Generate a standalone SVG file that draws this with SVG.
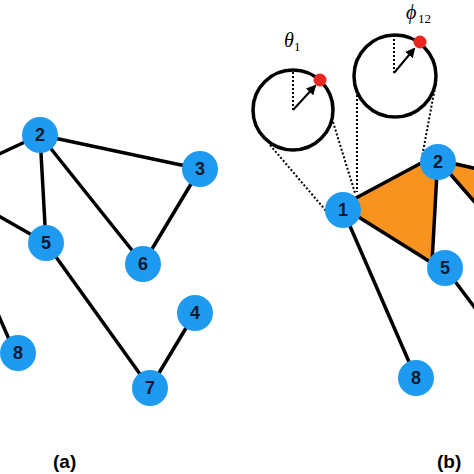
<svg xmlns="http://www.w3.org/2000/svg" width="474" height="474" viewBox="0 0 474 474">
<defs>
<style>
.edge{stroke:#000;stroke-width:3.5;fill:none;stroke-linecap:round}
.tri{fill:#f7931e;stroke:#000;stroke-width:3.5;stroke-linejoin:round}
.dot{stroke:#000;stroke-width:2;stroke-dasharray:2 2;fill:none}
.ring{fill:#fff;stroke:#000;stroke-width:3.5}
.node{fill:#1e9bf0}
.nl{font-family:"Liberation Sans",Arial,sans-serif;font-weight:bold;font-size:18px;fill:#0b1a2e;text-anchor:middle}
.cap{font-family:"Liberation Sans",Arial,sans-serif;font-weight:bold;font-size:19px;fill:#000}
.sym{font-family:"Liberation Serif","Times New Roman",serif;font-style:italic;font-size:20px;fill:#000}
.sub{font-family:"Liberation Serif","Times New Roman",serif;font-size:13px;fill:#000}
</style>
<marker id="ah" viewBox="0 0 10 10" refX="8" refY="5" markerWidth="5" markerHeight="5" orient="auto">
<path d="M0,0 L10,5 L0,10 z" fill="#000"/>
</marker>
</defs>
<rect width="474" height="474" fill="#fff"/>
<g id="connectors">
<line class="edge" x1="40" y1="135" x2="-5" y2="156"/>
<line class="edge" x1="46" y1="243" x2="-5" y2="214"/>
<line class="edge" x1="15" y1="353" x2="-2" y2="314"/>
<line class="edge" x1="40" y1="135" x2="200" y2="169"/>
<line class="edge" x1="40" y1="135" x2="46" y2="243"/>
<line class="edge" x1="40" y1="135" x2="143" y2="264"/>
<line class="edge" x1="200" y1="169" x2="143" y2="264"/>
<line class="edge" x1="46" y1="243" x2="150" y2="388"/>
<line class="edge" x1="150" y1="388" x2="195" y2="313"/>
<polygon class="tri" points="341,206 438,154 432,263"/>
<polygon class="tri" points="438,160 500,174 500,231"/>
<line class="edge" x1="343" y1="210" x2="416" y2="378"/>
<line class="edge" x1="445" y1="268" x2="490" y2="328"/>
<line class="dot" x1="270" y1="145" x2="327" y2="212"/>
<line class="dot" x1="333" y1="122" x2="355" y2="193"/>
<line class="dot" x1="357" y1="95" x2="357" y2="192"/>
<line class="dot" x1="436" y1="82" x2="422" y2="157"/>
</g>
<g id="phase1">
<circle class="ring" cx="293" cy="110" r="40"/>
<line class="dot" x1="293" y1="110" x2="293" y2="71"/>
<line x1="293" y1="110" x2="315" y2="86" stroke="#000" stroke-width="2" marker-end="url(#ah)"/>
<circle cx="320" cy="80" r="6.5" fill="#e8281e"/>
<text class="sym" x="284" y="47">θ</text><text class="sub" x="294" y="51">1</text>
</g>
<g id="phase12">
<circle class="ring" cx="395" cy="76" r="41"/>
<line class="dot" x1="394" y1="73" x2="394" y2="36"/>
<line x1="394" y1="73" x2="414" y2="49" stroke="#000" stroke-width="2" marker-end="url(#ah)"/>
<circle cx="420" cy="42" r="6.5" fill="#e8281e"/>
<text class="sym" x="406" y="19">ϕ</text><text class="sub" x="418" y="23">12</text>
</g>
<g id="a2"><circle class="node" cx="40" cy="135" r="18"/><text class="nl" x="40" y="141">2</text></g>
<g id="a3"><circle class="node" cx="200" cy="169" r="18"/><text class="nl" x="200" y="175">3</text></g>
<g id="a5"><circle class="node" cx="46" cy="243" r="18"/><text class="nl" x="46" y="249">5</text></g>
<g id="a6"><circle class="node" cx="143" cy="264" r="18"/><text class="nl" x="143" y="270">6</text></g>
<g id="a4"><circle class="node" cx="195" cy="313" r="18"/><text class="nl" x="195" y="319">4</text></g>
<g id="a7"><circle class="node" cx="150" cy="388" r="18"/><text class="nl" x="150" y="394">7</text></g>
<g id="a8"><circle class="node" cx="18" cy="353" r="18"/><text class="nl" x="18" y="359">8</text></g>
<g id="b1"><circle class="node" cx="343" cy="210" r="18"/><text class="nl" x="343" y="216">1</text></g>
<g id="b2"><circle class="node" cx="438" cy="162" r="18"/><text class="nl" x="438" y="168">2</text></g>
<g id="b5"><circle class="node" cx="445" cy="268" r="18"/><text class="nl" x="445" y="274">5</text></g>
<g id="b8"><circle class="node" cx="416" cy="378" r="18"/><text class="nl" x="416" y="384">8</text></g>
<text class="cap" x="53" y="468">(a)</text>
<text class="cap" x="437" y="468">(b)</text>
</svg>
